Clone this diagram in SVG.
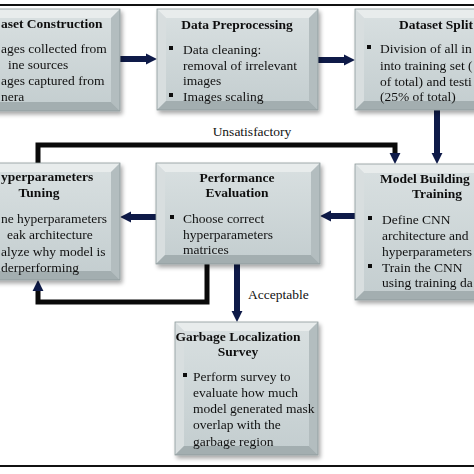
<svg xmlns="http://www.w3.org/2000/svg" width="474" height="474" viewBox="0 0 474 474">
<defs>
<style>
.t{font-family:"Liberation Serif","Times New Roman",serif;font-size:13.5px;font-weight:bold;fill:#111;text-anchor:middle}
.ts{font-family:"Liberation Serif","Times New Roman",serif;font-size:13.5px;font-weight:bold;fill:#111}
.b{font-family:"Liberation Serif","Times New Roman",serif;font-size:13.5px;fill:#111}
.lbl{font-family:"Liberation Serif","Times New Roman",serif;font-size:13.5px;fill:#111}
.face{fill:url(#g)}
.bt{fill:#e8ecec}.bl{fill:#d8dedf}.br{fill:#b3bdbf}.bb{fill:#a3aeb0}
.edge{fill:none;stroke:#8d999b;stroke-width:0.8}
.nav{fill:none;stroke:#0e1a48;stroke-width:6}
.blk{fill:none;stroke:#0a0a0a;stroke-width:5}
.sq{fill:#111}
</style>
<linearGradient id="g" x1="0" y1="0" x2="0" y2="1">
<stop offset="0" stop-color="#d9e0e1"/>
<stop offset="1" stop-color="#c3cdcf"/>
</linearGradient>
<filter id="sh" x="-10%" y="-10%" width="130%" height="130%">
<feGaussianBlur in="SourceAlpha" stdDeviation="2"/>
<feOffset dx="2" dy="3"/>
<feComponentTransfer><feFuncA type="linear" slope="0.35"/></feComponentTransfer>
<feMerge><feMergeNode/><feMergeNode in="SourceGraphic"/></feMerge>
</filter>
<marker id="ah" viewBox="0 0 10 10" markerWidth="11" markerHeight="13" refX="1" refY="5" orient="auto" markerUnits="userSpaceOnUse">
<path d="M0,0 L10,5 L0,10 z" fill="#0e1a48"/>
</marker>
</defs>
<rect width="474" height="474" fill="#fff"/>
<line x1="0" y1="5" x2="474" y2="5" stroke="#111" stroke-width="2"/>
<line x1="0" y1="466" x2="474" y2="466" stroke="#111" stroke-width="2"/>

<g id="connectors">
<line class="nav" x1="120" y1="59" x2="147" y2="59" marker-end="url(#ah)"/>
<line class="nav" x1="318" y1="60" x2="345" y2="60" marker-end="url(#ah)"/>
<line class="nav" x1="437" y1="110" x2="437" y2="154" marker-end="url(#ah)"/>
<line class="nav" x1="355" y1="216" x2="330" y2="216" marker-end="url(#ah)"/>
<line class="nav" x1="156" y1="217" x2="130" y2="217" marker-end="url(#ah)"/>
<polyline class="blk" points="38,163 38,145 395,145 395,154" marker-end="url(#ah)"/>
<polyline class="blk" points="207,264 207,302 38,302 38,290" marker-end="url(#ah)"/>
<line class="nav" x1="237" y1="264" x2="237" y2="312" marker-end="url(#ah)"/>
<text class="lbl" x="252" y="136" text-anchor="middle">Unsatisfactory</text>
<text class="lbl" x="248" y="299">Acceptable</text>
</g>

<g id="dataset-construction" filter="url(#sh)">
<rect class="face" x="-42" y="9" width="162" height="102"/>
<polygon class="bt" points="-42,9 120,9 111,18 -33,18"/>
<polygon class="bl" points="-42,9 -33,18 -33,102 -42,111"/>
<polygon class="br" points="120,9 120,111 111,102 111,18"/>
<polygon class="bb" points="-42,111 -33,102 111,102 120,111"/>
<rect class="edge" x="-42" y="9" width="162" height="102"/>
<text class="ts" x="1" y="28">aset Construction</text>
<text class="b" x="1" y="53">ages  collected from</text>
<text class="b" x="8" y="69">ine sources</text>
<text class="b" x="1" y="85">ages  captured from</text>
<text class="b" x="1" y="101">nera</text>
</g>

<g id="data-preprocessing" filter="url(#sh)">
<rect class="face" x="157" y="9" width="161" height="101"/>
<polygon class="bt" points="157,9 318,9 309,18 166,18"/>
<polygon class="bl" points="157,9 166,18 166,101 157,110"/>
<polygon class="br" points="318,9 318,110 309,101 309,18"/>
<polygon class="bb" points="157,110 166,101 309,101 318,110"/>
<rect class="edge" x="157" y="9" width="161" height="101"/>
<text class="t" x="237" y="29">Data Preprocessing</text>
<rect class="sq" x="169" y="46" width="4" height="4"/>
<text class="b" x="183" y="54">Data cleaning:</text>
<text class="b" x="183" y="70">removal of irrelevant</text>
<text class="b" x="183" y="85">images</text>
<rect class="sq" x="169" y="93" width="4" height="4"/>
<text class="b" x="183" y="101">Images  scaling</text>
</g>

<g id="dataset-split" filter="url(#sh)">
<rect class="face" x="355" y="9" width="165" height="101"/>
<polygon class="bt" points="355,9 520,9 511,18 364,18"/>
<polygon class="bl" points="355,9 364,18 364,101 355,110"/>
<polygon class="br" points="520,9 520,110 511,101 511,18"/>
<polygon class="bb" points="355,110 364,101 511,101 520,110"/>
<rect class="edge" x="355" y="9" width="165" height="101"/>
<text class="ts" x="399" y="29">Dataset Split</text>
<rect class="sq" x="367" y="45" width="4" height="4"/>
<text class="b" x="380" y="53">Division of all in</text>
<text class="b" x="380" y="70">into training set (</text>
<text class="b" x="380" y="86">of total) and testi</text>
<text class="b" x="380" y="101">(25% of total)</text>
</g>

<g id="model-building" filter="url(#sh)">
<rect class="face" x="355" y="164" width="165" height="136"/>
<polygon class="bt" points="355,164 520,164 511,173 364,173"/>
<polygon class="bl" points="355,164 364,173 364,291 355,300"/>
<polygon class="br" points="520,164 520,300 511,291 511,173"/>
<polygon class="bb" points="355,300 364,291 511,291 520,300"/>
<rect class="edge" x="355" y="164" width="165" height="136"/>
<text class="ts" x="380" y="183">Model Building</text>
<text class="t" x="437" y="198">Training</text>
<rect class="sq" x="368" y="216" width="4" height="4"/>
<text class="b" x="382" y="224">Define CNN</text>
<text class="b" x="382" y="240">architecture and</text>
<text class="b" x="382" y="256">hyperparameters</text>
<rect class="sq" x="368" y="264" width="4" height="4"/>
<text class="b" x="382" y="272">Train the CNN</text>
<text class="b" x="382" y="287">using training da</text>
</g>

<g id="performance-evaluation" filter="url(#sh)">
<rect class="face" x="156" y="163" width="164" height="101"/>
<polygon class="bt" points="156,163 320,163 311,172 165,172"/>
<polygon class="bl" points="156,163 165,172 165,255 156,264"/>
<polygon class="br" points="320,163 320,264 311,255 311,172"/>
<polygon class="bb" points="156,264 165,255 311,255 320,264"/>
<rect class="edge" x="156" y="163" width="164" height="101"/>
<text class="t" x="237" y="182">Performance</text>
<text class="t" x="237" y="197">Evaluation</text>
<rect class="sq" x="170" y="215" width="4" height="4"/>
<text class="b" x="183" y="223">Choose correct</text>
<text class="b" x="183" y="239">hyperparameters</text>
<text class="b" x="183" y="254">matrices</text>
</g>

<g id="hyperparameters-tuning" filter="url(#sh)">
<rect class="face" x="-42" y="163" width="162" height="117"/>
<polygon class="bt" points="-42,163 120,163 111,172 -33,172"/>
<polygon class="bl" points="-42,163 -33,172 -33,271 -42,280"/>
<polygon class="br" points="120,163 120,280 111,271 111,172"/>
<polygon class="bb" points="-42,280 -33,271 111,271 120,280"/>
<rect class="edge" x="-42" y="163" width="162" height="117"/>
<text class="ts" x="1" y="181">yperparameters</text>
<text class="t" x="39" y="197">Tuning</text>
<text class="b" x="1" y="223">ne hyperparameters</text>
<text class="b" x="7" y="239">eak  architecture</text>
<text class="b" x="1" y="256">alyze  why model is</text>
<text class="b" x="1" y="272">derperforming</text>
</g>

<g id="garbage-localization" filter="url(#sh)">
<rect class="face" x="175" y="322" width="143" height="133"/>
<polygon class="bt" points="175,322 318,322 309,331 184,331"/>
<polygon class="bl" points="175,322 184,331 184,446 175,455"/>
<polygon class="br" points="318,322 318,455 309,446 309,331"/>
<polygon class="bb" points="175,455 184,446 309,446 318,455"/>
<rect class="edge" x="175" y="322" width="143" height="133"/>
<text class="t" x="238" y="341">Garbage Localization</text>
<text class="t" x="238" y="356">Survey</text>
<rect class="sq" x="183" y="373" width="4" height="4"/>
<text class="b" x="193" y="381">Perform survey to</text>
<text class="b" x="193" y="397">evaluate how much</text>
<text class="b" x="193" y="413">model generated mask</text>
<text class="b" x="193" y="429">overlap with the</text>
<text class="b" x="193" y="446">garbage region</text>
</g>
</svg>
